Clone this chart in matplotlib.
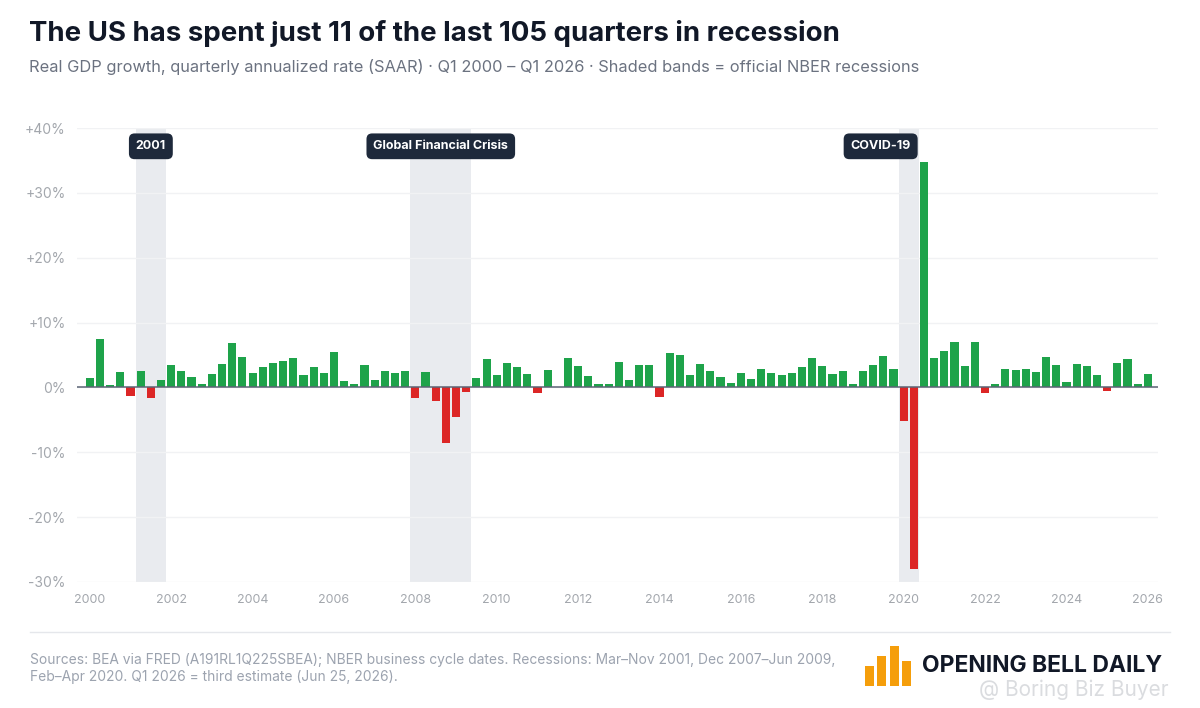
import numpy as np
import matplotlib
matplotlib.use("Agg")
import matplotlib.pyplot as plt

plt.rcParams['font.family'] = ['Inter', 'DejaVu Sans']

# real GDP growth, SAAR, Q1 2000 .. Q1 2026
gdp = [
    1.5, 7.5, 0.4, 2.4,     # 2000
    -1.3, 2.5, -1.6, 1.1,   # 2001
    3.4, 2.5, 1.6, 0.5,     # 2002
    2.1, 3.6, 6.8, 4.7,     # 2003
    2.3, 3.1, 3.8, 4.1,     # 2004
    4.5, 2.0, 3.2, 2.2,     # 2005
    5.5, 1.0, 0.6, 3.5,     # 2006
    1.2, 2.5, 2.3, 2.5,     # 2007
    -1.7, 2.4, -2.1, -8.5,  # 2008
    -4.5, -0.7, 1.4, 4.4,   # 2009
    1.9, 3.8, 3.1, 2.1,     # 2010
    -0.9, 2.7, 0.0, 4.6,    # 2011
    3.3, 1.8, 0.6, 0.5,     # 2012
    4.0, 1.1, 3.5, 3.5,     # 2013
    -1.4, 5.3, 5.0, 2.0,    # 2014
    3.6, 2.5, 1.6, 0.7,     # 2015
    2.3, 1.3, 2.9, 2.2,     # 2016
    2.0, 2.3, 3.2, 4.6,     # 2017
    3.3, 2.1, 2.5, 0.6,     # 2018
    2.5, 3.4, 4.8, 2.8,     # 2019
    -5.1, -28.0, 34.8, 4.6, # 2020
    5.7, 7.0, 3.3, 7.0,     # 2021
    -0.9, 0.6, 2.9, 2.7,    # 2022
    2.9, 2.4, 4.7, 3.4,     # 2023
    0.8, 3.6, 3.3, 1.9,     # 2024
    -0.5, 3.8, 4.4, 0.5,    # 2025
    2.1,                    # 2026
]
start_year = 2000

# recession bands as (first quarter, last quarter) in year.fraction -> 3 + 6 + 2 = 11 quarters
recessions = [(2001.25, 2001.75), (2008.0, 2009.25), (2020.0, 2020.25)]
rec_labels = ['2001', 'Global Financial Crisis', 'COVID-19']

yticks = [-30, -20, -10, 0, 10, 20, 30, 40]
ytick_labels = ['-30%', '-20%', '-10%', '0%', '+10%', '+20%', '+30%', '+40%']
xticks = list(range(2000, 2027, 2))

logo_heights = [0.5, 0.74, 1.0, 0.63]

GREEN = '#1ea34a'
RED = '#dc2626'
NAVY = '#1e293b'

gdp = np.array(gdp)
xq = start_year + np.arange(len(gdp)) / 4.0

fig = plt.figure(figsize=(12, 7.08), dpi=100)
ax = fig.add_axes([0.064, 0.178, 0.901, 0.641])

for (a, b) in recessions:
    ax.axvspan(a - 0.125, b + 0.125, color='#e9ebef', lw=0, zorder=0)

cols = [GREEN if v >= 0 else RED for v in gdp]
ax.bar(xq, gdp, width=0.2, color=cols, zorder=2)
ax.axhline(0, color='#5b6475', lw=1.1, zorder=3)

ax.set_ylim(-30, 40)
ax.set_xlim(1999.68, 2026.25)
ax.set_yticks(yticks)
ax.set_yticklabels(ytick_labels)
ax.set_xticks(xticks)
ax.set_xticklabels([str(t) for t in xticks])
ax.tick_params(axis='y', length=0, pad=8, labelsize=10, labelcolor='#a3a7ad')
ax.tick_params(axis='x', length=0, pad=9, labelsize=9, labelcolor='#a3a7ad')
ax.grid(axis='y', color='#f1f2f4', lw=1, zorder=1)
for s in ax.spines.values():
    s.set_visible(False)

# recession labels
for (a, b), lab in zip(recessions, rec_labels):
    if lab == 'COVID-19':
        xpos, ha = b + 0.125 - 0.2, 'right'
    else:
        xpos, ha = (a + b) / 2.0, 'center'
    ax.text(xpos, 37.2, lab, ha=ha, va='center', fontsize=9, fontweight='bold',
            color='white', zorder=5,
            bbox=dict(boxstyle='round,pad=0.55,rounding_size=0.45', fc=NAVY, ec='none'))

fig.text(0.024, 0.952, 'The US has spent just 11 of the last 105 quarters in recession',
         fontsize=19.9, fontweight='bold', color='#111827', va='center')
fig.text(0.024, 0.905,
         'Real GDP growth, quarterly annualized rate (SAAR) \u00b7 Q1 2000 \u2013 Q1 2026 \u00b7 '
         'Shaded bands = official NBER recessions',
         fontsize=11.8, color='#6b7280', va='center')

# footer
fig.add_artist(plt.Line2D([0.025, 0.975], [0.107, 0.107], color='#e5e7eb', lw=1))
fig.text(0.025, 0.056,
         'Sources: BEA via FRED (A191RL1Q225SBEA); NBER business cycle dates. Recessions: Mar\u2013Nov 2001, '
         'Dec 2007\u2013Jun 2009,\nFeb\u2013Apr 2020. Q1 2026 = third estimate (Jun 25, 2026).',
         fontsize=9.95, color='#9ca3af', va='center', linespacing=1.3)

lax = fig.add_axes([0.720, 0.031, 0.040, 0.057])
lax.bar(range(len(logo_heights)), logo_heights, width=0.72, color='#f59e0b')
lax.set_xlim(-0.45, len(logo_heights) - 0.55)
lax.set_ylim(0, 1)
lax.axis('off')

fig.text(0.768, 0.060, 'OPENING BELL DAILY', fontsize=16.5, fontweight='bold',
         color='#111827', va='center')
fig.text(0.816, 0.026, '@ Boring Biz Buyer', fontsize=15, color='#d4d6da',
         va='center', alpha=0.85)

fig.savefig('out.png', dpi=100, facecolor='white')
